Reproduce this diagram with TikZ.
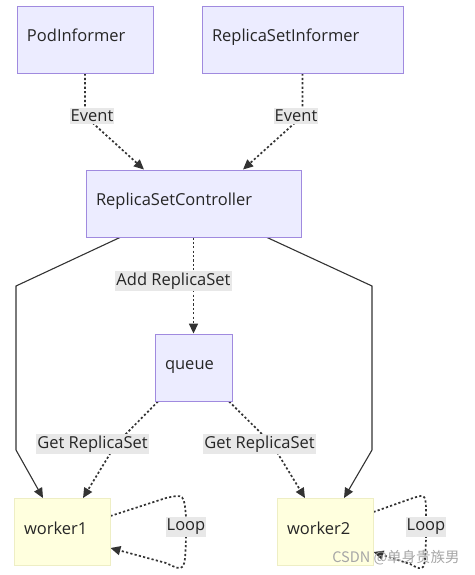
\documentclass[tikz,border=0pt]{standalone}
\usepackage{fontspec}
\setmainfont{Open Sans}
\newfontfamily\cjkfont{Noto Sans CJK SC}
\usetikzlibrary{positioning,arrows.meta,calc}
\definecolor{boxfill}{HTML}{ECECFF}
\definecolor{boxline}{HTML}{A08ADF}
\definecolor{workfill}{HTML}{FFFFDE}
\definecolor{workline}{HTML}{EEEEC4}
\definecolor{labelbg}{HTML}{E8E8E8}
\definecolor{edgecol}{HTML}{333333}
\pgfdeclarelayer{bg}
\pgfsetlayers{bg,main}

\begin{document}
\begin{tikzpicture}[x=1pt, y=-1pt,
    font=\fontsize{16.5}{19}\selectfont,
    box/.style={draw=boxline, fill=boxfill, line width=0.9pt, inner xsep=10pt,
        align=left, minimum height=67pt, text height=12pt, text depth=8pt, text=black!85},
    workbox/.style={box, draw=workline, fill=workfill},
    elabel/.style={fill=labelbg, inner xsep=1pt, inner ysep=2pt, text=black!85},
    solidarrow/.style={draw=edgecol, line width=1.1pt,
        -{Triangle[length=10pt,width=9pt]}},
    dotarrow/.style={solidarrow, dash pattern=on 2.2pt off 2.2pt, line width=1.7pt}]
    \useasboundingbox (0,0) rectangle (474,575);

    % Informers
    \node[box, text width=116pt] (pod) at (85,39.5) {PodInformer};
    \node[box, text width=181pt] (rsinf) at (302.5,39.5) {ReplicaSetInformer};

    % Controller and queue
    \node[box, text width=195pt] (ctrl) at (193.5,203.5) {ReplicaSetController};
    \node[box, text width=57pt] (queue) at (193.5,367.5) {queue};

    % Workers
    \node[workbox, text width=76pt] (w1) at (62,532) {worker1};
    \node[workbox, text width=76pt] (w2) at (325,532) {worker2};

    % Edge labels
    \node[elabel] (ev1) at (92,116) {Event};
    \node[elabel] (ev2) at (296,116) {Event};
    \node[elabel] (addrs) at (173.5,281) {Add ReplicaSet};
    \node[elabel] (get1) at (92.5,444) {Get ReplicaSet};
    \node[elabel] (get2) at (259.5,444) {Get ReplicaSet};
    \node[elabel] (loop1) at (186,527) {Loop};
    \node[elabel] (loop2) at (426,527) {Loop};

    % Bends
    \coordinate (l1) at (16,286);
    \coordinate (l2) at (16,450);
    \coordinate (r1) at (372,286);
    \coordinate (r2) at (372,450);
    \coordinate (g1) at (116,444);
    \coordinate (g2) at (272,444);

    \begin{pgfonlayer}{bg}
    % Events
    \draw[dotarrow] (pod.south) -- (pod.south |- ev1) -- ([xshift=-49.5pt]ctrl.north);
    \draw[dotarrow] (rsinf.south) -- (rsinf.south |- ev2) -- ([xshift=49.5pt]ctrl.north);
    \draw[dotarrow] (ctrl.south) -- (queue.north);

    % Controller to workers
    \draw[solidarrow] ([xshift=-73.5pt]ctrl.south) -- (l1) -- (l2) -- ([xshift=-19pt]w1.north);
    \draw[solidarrow] ([xshift=73.5pt]ctrl.south) -- (r1) -- (r2) -- ([xshift=19pt]w2.north);

    % Queue to workers
    \draw[dotarrow] ([xshift=-35.5pt]queue.south) -- (g1) -- ([xshift=21pt]w1.north);
    \draw[dotarrow] ([xshift=35.5pt]queue.south) -- (g2) -- ([xshift=-20pt]w2.north);

    % Loops
    \draw[dotarrow] ([yshift=16pt]w1.east) -- (166,498) .. controls (184,494) .. (loop1.north)
        -- (loop1.south) .. controls (185,572) .. (166,563) -- ([yshift=-16pt]w1.east);
    \draw[dotarrow] ([yshift=20pt]w2.east) -- (413,498) .. controls (426,494) .. (loop2.north)
        -- (loop2.south) .. controls (425,572) .. (410,564) -- ([yshift=-20pt]w2.east);
    \end{pgfonlayer}

    % Watermark
    \node[text=gray!70, font=\fontsize{14.5}{17}\selectfont\cjkfont] (mark) at (396,558) {CSDN @单身贵族男};
\end{tikzpicture}
\end{document}
